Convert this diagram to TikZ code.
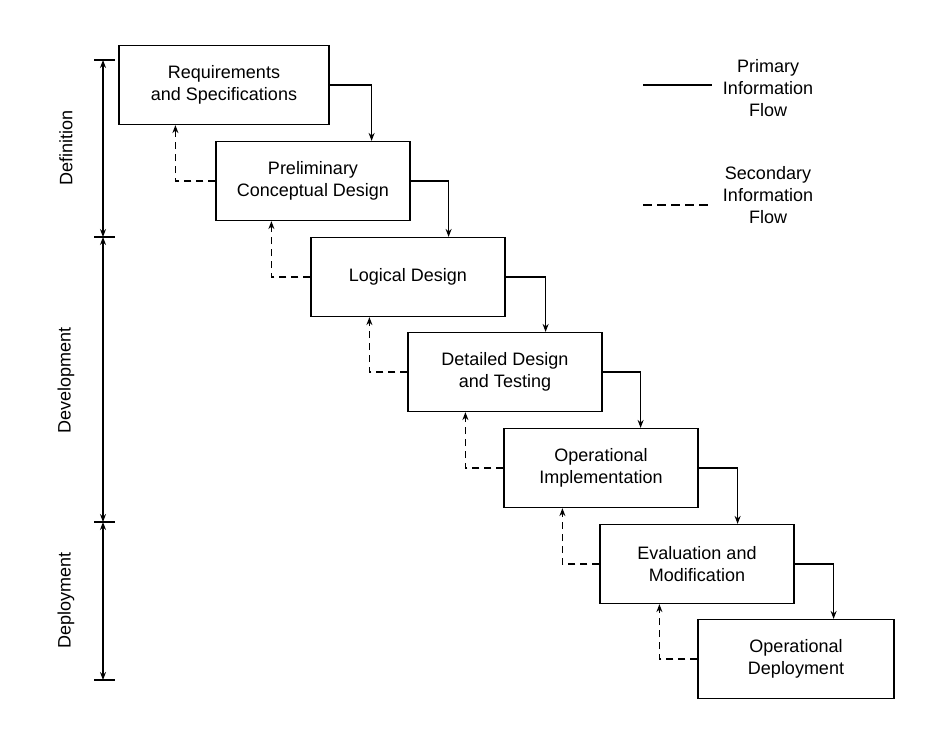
\documentclass[tikz,border=0pt]{standalone}
\usepackage{fontspec}
\setmainfont{Liberation Sans}
\usetikzlibrary{arrows.meta}
\begin{document}
\begin{tikzpicture}[x=1pt,y=-1pt,
  box/.style={draw,line width=1.2pt,minimum width=194pt,minimum height=79pt,align=center,font=\fontsize{18}{22}\selectfont,inner sep=0pt},
  prim/.style={line width=1.2pt,-{Stealth[length=8pt,width=6pt]}},
  sec/.style={line width=1.2pt,dash pattern=on 7pt off 5pt,-{Stealth[length=8pt,width=6pt]}},
  lbl/.style={font=\fontsize{18}{22}\selectfont,align=center},
  ax/.style={line width=1.2pt,{Stealth[length=8pt,width=6pt]}-{Stealth[length=8pt,width=6pt]}}]
\useasboundingbox (0,0) rectangle (936,748);
\node[box,minimum width=210pt] (b1) at (224,85) {Requirements\\and Specifications};
\node[box] (b2) at (313,181) {Preliminary\\Conceptual Design};
\node[box] (b3) at (408,277) {Logical Design};
\node[box] (b4) at (505,372) {Detailed Design\\and Testing};
\node[box] (b5) at (601,468) {Operational\\Implementation};
\node[box] (b6) at (697,564) {Evaluation and\\Modification};
\node[box,minimum width=196pt] (b7) at (796,659) {Operational\\Deployment};
\draw[prim] (b1.east) -| ([xshift=-39pt]b2.north east);
\draw[prim] (b2.east) -| ([xshift=-57pt]b3.north east);
\draw[prim] (b3.east) -| ([xshift=-57pt]b4.north east);
\draw[prim] (b4.east) -| ([xshift=-58pt]b5.north east);
\draw[prim] (b5.east) -| ([xshift=-57pt]b6.north east);
\draw[prim] (b6.east) -| ([xshift=-61pt]b7.north east);
\draw[sec] (b2.west) -| ([xshift=57pt]b1.south west);
\draw[sec] (b3.west) -| ([xshift=56pt]b2.south west);
\draw[sec] (b4.west) -| ([xshift=59pt]b3.south west);
\draw[sec] (b5.west) -| ([xshift=58pt]b4.south west);
\draw[sec] (b6.west) -| ([xshift=59pt]b5.south west);
\draw[sec] (b7.west) -| ([xshift=60pt]b6.south west);
% axis
\coordinate (t0) at (103,60); \coordinate (t1) at (103,237);
\coordinate (t2) at (103,522); \coordinate (t3) at (103,680);
\draw[ax] (t0) -- (t1);
\draw[ax] (t1) -- (t2);
\draw[ax] (t2) -- (t3);
\foreach \p in {t0,t1,t2,t3} \draw[line width=1.2pt] ([xshift=-9pt]\p) -- ([xshift=12pt]\p);
\node[lbl,rotate=90] (d1) at (66,148) {Definition};
\node[lbl,rotate=90] (d2) at (66,380) {Development};
\node[lbl,rotate=90] (d3) at (66,600) {Deployment};
% legend
\coordinate (l1a) at (643,85); \coordinate (l1b) at (712,85);
\coordinate (l2a) at (643,205); \coordinate (l2b) at (712,205);
\draw[line width=1.2pt] (l1a) -- (l1b);
\draw[line width=1.2pt,dash pattern=on 9pt off 5pt] (l2a) -- (l2b);
\node[lbl] (lg1) at (768,88) {Primary\\Information\\Flow};
\node[lbl] (lg2) at (768,195) {Secondary\\Information\\Flow};
\end{tikzpicture}
\end{document}
